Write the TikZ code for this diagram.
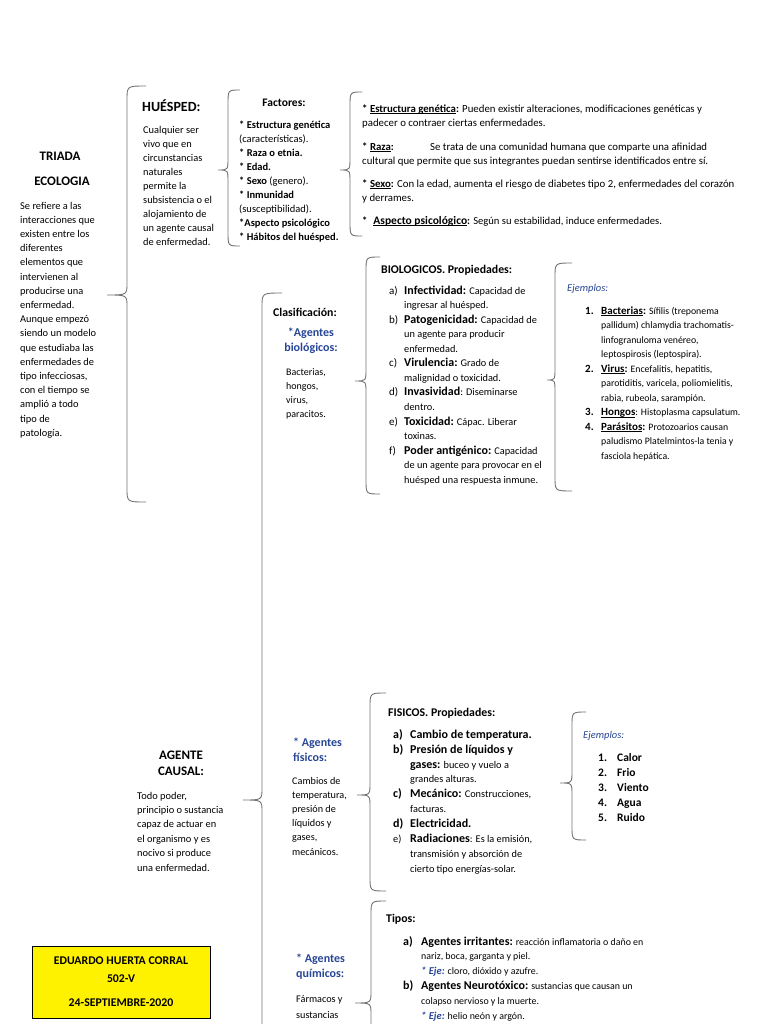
\documentclass[tikz,border=0pt]{standalone}
\usepackage{fontspec}
\setmainfont{Carlito}
\definecolor{dblue}{RGB}{40,70,150}
\definecolor{bgray}{RGB}{115,115,115}
\newcommand\fsz[2]{\fontsize{#1}{#2}\selectfont}
\newcommand\bt[1]{{\bfseries\fontsize{12}{14.5}\selectfont #1}}
\newcommand\lbl[2]{\makebox[#1][l]{#2}}
\newcommand\ul[1]{\setbox0\hbox{#1}\rlap{\rule[-1.6pt]{\wd0}{0.6pt}}\box0}
\newcommand\CurlyL[6]{%
  \draw[brc] (#6,#2) .. controls (#1,#2) .. (#1,#2+14) -- (#1,#3-12)
    .. controls (#1,#3) .. (#5,#3) .. controls (#1,#3) .. (#1,#3+12)
    -- (#1,#4-14) .. controls (#1,#4) .. (#6,#4);}
\begin{document}
\begin{tikzpicture}[x=1pt,y=-1pt,
  brc/.style={draw=bgray, line width=0.9pt},
  txt/.style={inner sep=0pt, anchor=north west, align=left},
  one/.style={inner sep=0pt, anchor=base west},
  head/.style={inner sep=0pt, anchor=base west, font=\bfseries\fsz{11.8}{14}},
  ttl/.style={inner sep=0pt, anchor=north, align=center, font=\bfseries\fsz{13}{16}},
  bluehead/.style={inner sep=0pt, align=left, text=dblue, font=\bfseries\fsz{12}{15}},
  ejem/.style={inner sep=0pt, anchor=base west, text=dblue, font=\itshape\fsz{10.5}{14}}]
\useasboundingbox (0,0) rectangle (768,1024);

% braces
\CurlyL{127}{86}{295}{502}{107}{146}
\CurlyL{228}{90}{170}{246}{218}{240}
\CurlyL{350}{92}{170}{236}{340}{362}
\CurlyL{366}{257}{381}{494}{355}{380}
\CurlyL{555}{263}{380}{491}{547}{572}
\CurlyL{262}{293}{800}{1070}{243}{282}
\CurlyL{370}{693}{795}{891}{357}{386}
\CurlyL{572}{712}{783}{840}{560}{586}
\CurlyL{371}{901}{1003}{1110}{355}{386}

% Triada
\node[ttl] (triada) at (60,149) {\strut TRIADA};
\node[ttl] (ecologia) at (62,174) {\strut ECOLOGIA};
\node[txt, font=\fsz{10.4}{14.2}] (triadatxt) at (20,199) {\strut Se refiere a las\\interacciones que\\existen entre los\\diferentes\\elementos que\\intervienen al\\producirse una\\enfermedad.\\Aunque empezó\\siendo un modelo\\que estudiaba las\\enfermedades de\\tipo infecciosas,\\con el tiempo se\\amplió a todo\\tipo de\\patología.};

% Huesped
\node[one, font=\bfseries\fsz{14}{16}] (huesped) at (142,112) {HUÉSPED:};
\node[txt, font=\fsz{10.4}{14}] (huespedtxt) at (143,123.2) {\strut Cualquier ser\\vivo que en\\circunstancias\\naturales\\permite la\\subsistencia o el\\alojamiento de\\un agente causal\\de enfermedad.};

% Factores
\node[inner sep=0pt, anchor=base, font=\bfseries\fsz{11.5}{14}] (factores) at (284,107) {Factores:};
\node[txt, font=\fsz{10.5}{14.1}] (factorestxt) at (239,118) {\strut\textbf{* Estructura genética}\\(características).\\\textbf{* Raza o etnia.}\\\textbf{* Edad.}\\\textbf{* Sexo} (genero).\\\textbf{* Inmunidad}\\(susceptibilidad).\\\textbf{*Aspecto psicológico}\\\textbf{* Hábitos del huésped.}};

% Factores details
\node[txt, font=\fsz{10.8}{14.5}] (det1) at (362,101.9) {\strut\textbf{* \ul{Estructura genética}:} Pueden existir alteraciones, modificaciones genéticas y\\padecer o contraer ciertas enfermedades.};
\node[txt, font=\fsz{10.8}{14.5}] (det2) at (362,139.9) {\strut\lbl{68pt}{\textbf{* \ul{Raza}:}}Se trata de una comunidad humana que comparte una afinidad\\cultural que permite que sus integrantes puedan sentirse identificados entre sí.};
\node[txt, font=\fsz{10.8}{14.5}] (det3) at (362,176.9) {\strut\textbf{* \ul{Sexo}:} Con la edad, aumenta el riesgo de diabetes tipo 2, enfermedades del corazón\\y derrames.};
\node[one, font=\fsz{10.6}{14.5}] (det4) at (362,224.5) {\textbf{*\hspace{6pt}{\fsz{11.5}{14.5}\ul{Aspecto psicológico}}:} Según su estabilidad, induce enfermedades.};

% Clasificacion / biologicos
\node[one, font=\bfseries\fsz{11.8}{14}] (clasif) at (273,316) {Clasificación:};
\node[bluehead, anchor=north, align=center] (agbio) at (311,326) {\strut *Agentes\\biológicos:};
\node[txt, font=\fsz{10}{14}] (biotxt) at (286,365.2) {\strut Bacterias,\\hongos,\\virus,\\paracitos.};

\node[head] (bioprop) at (381,273) {BIOLOGICOS. Propiedades:};
\node[txt, font=\fsz{10.3}{14.54}] (biolist) at (389,283.8) {\strut
\lbl{15pt}{\fsz{11}{14.54}a)}\bt{Infectividad:} Capacidad de\\
\lbl{15pt}{}ingresar al huésped.\\
\lbl{15pt}{\fsz{11}{14.54}b)}\bt{Patogenicidad:} Capacidad de\\
\lbl{15pt}{}un agente para producir\\
\lbl{15pt}{}enfermedad.\\
\lbl{15pt}{\fsz{11}{14.54}c)}\bt{Virulencia:} Grado de\\
\lbl{15pt}{}malignidad o toxicidad.\\
\lbl{15pt}{\fsz{11}{14.54}d)}\bt{Invasividad}: Diseminarse\\
\lbl{15pt}{}dentro.\\
\lbl{15pt}{\fsz{11}{14.54}e)}\bt{Toxicidad:} Cápac. Liberar\\
\lbl{15pt}{}toxinas.\\
\lbl{15pt}{\fsz{11}{14.54}f)}\bt{Poder antigénico:} Capacidad\\
\lbl{15pt}{}de un agente para provocar en el\\
\lbl{15pt}{}huésped una respuesta inmune.};

\node[ejem] (ejbio) at (567,291) {Ejemplos:};
\node[txt, font=\fsz{9.8}{14.5}] (ejbiolist) at (585,303.85) {\strut
\lbl{16pt}{\bfseries\fsz{11}{14.5}1.}{\bfseries\fsz{11}{14.5}\ul{Bacterias}:} Sífilis (treponema\\
\lbl{16pt}{}pallidum) chlamydia trachomatis-\\
\lbl{16pt}{}linfogranuloma venéreo,\\
\lbl{16pt}{}leptospirosis (leptospira).\\
\lbl{16pt}{\bfseries\fsz{11}{14.5}2.}{\bfseries\fsz{11}{14.5}\ul{Virus}:} Encefalitis, hepatitis,\\
\lbl{16pt}{}parotiditis, varicela, poliomielitis,\\
\lbl{16pt}{}rabia, rubeola, sarampión.\\
\lbl{16pt}{\bfseries\fsz{11}{14.5}3.}{\bfseries\fsz{11}{14.5}\ul{Hongos}}: Histoplasma capsulatum.\\
\lbl{16pt}{\bfseries\fsz{11}{14.5}4.}{\bfseries\fsz{11}{14.5}\ul{Parásitos}:} Protozoarios causan\\
\lbl{16pt}{}paludismo Platelmintos-la tenia y\\
\lbl{16pt}{}fasciola hepática.};

% Agente causal
\node[ttl] (agente) at (181,748.3) {\strut AGENTE\\CAUSAL:};
\node[txt, font=\fsz{10.4}{14.4}] (agentetxt) at (137,788.9) {\strut Todo poder,\\principio o sustancia\\capaz de actuar en\\el organismo y es\\nocivo si produce\\una enfermedad.};

% Fisicos
\node[bluehead, anchor=north west] (agfis) at (293,736) {\strut * Agentes\\físicos:};
\node[txt, font=\fsz{10.2}{14.2}] (fistxt) at (292,774) {\strut Cambios de\\temperatura,\\presión de\\líquidos y\\gases,\\mecánicos.};

\node[head] (fisprop) at (388,716) {FISICOS. Propiedades:};
\node[txt, font=\fsz{10.3}{14.9}] (fislist) at (393,727.6) {\strut
\lbl{17pt}{\bfseries\fsz{12}{14.9}a)}\bt{Cambio de temperatura.}\\
\lbl{17pt}{\bfseries\fsz{12}{14.9}b)}\bt{Presión de líquidos y}\\
\lbl{17pt}{}\bt{gases:} buceo y vuelo a\\
\lbl{17pt}{}grandes alturas.\\
\lbl{17pt}{\bfseries\fsz{12}{14.9}c)}\bt{Mecánico:} Construcciones,\\
\lbl{17pt}{}facturas.\\
\lbl{17pt}{\bfseries\fsz{12}{14.9}d)}\bt{Electricidad.}\\
\lbl{17pt}{e)}\bt{Radiaciones}: Es la emisión,\\
\lbl{17pt}{}transmisión y absorción de\\
\lbl{17pt}{}cierto tipo energías-solar.};

\node[ejem] (ejfis) at (583,738) {Ejemplos:};
\node[txt, font=\bfseries\fsz{11.5}{15}] (ejfislist) at (598,750.5) {\strut
\lbl{19pt}{1.}Calor\\\lbl{19pt}{2.}Frio\\\lbl{19pt}{3.}Viento\\\lbl{19pt}{4.}Agua\\\lbl{19pt}{5.}Ruido};

% Quimicos
\node[bluehead, anchor=north west] (agqui) at (296,952) {\strut * Agentes\\químicos:};
\node[txt, font=\fsz{10.2}{15.5}] (quitxt) at (296,991.8) {\strut Fármacos y\\sustancias};

\node[head] (tipos) at (386,922) {Tipos:};
\node[txt, font=\fsz{9.9}{14.8}] (tiposlist) at (403,934.6) {\strut
\lbl{18pt}{\bfseries\fsz{12}{14.8}a)}\bt{Agentes irritantes:} reacción inflamatoria o daño en\\
\lbl{18pt}{}nariz, boca, garganta y piel.\\
\lbl{18pt}{}{\color{dblue}\bfseries\itshape\fsz{10.5}{14.8}* Eje:} cloro, dióxido y azufre.\\
\lbl{18pt}{\bfseries\fsz{12}{14.8}b)}\bt{Agentes Neurotóxico:} sustancias que causan un\\
\lbl{18pt}{}colapso nervioso y la muerte.\\
\lbl{18pt}{}{\color{dblue}\bfseries\itshape\fsz{10.5}{14.8}* Eje:} helio neón y argón.};

% Name box
\node[draw=black, line width=1pt, fill=yellow, minimum width=178pt, minimum height=72pt, inner sep=0pt, align=center, font=\bfseries\fsz{11.8}{18}] (namebox) at (121,982) {EDUARDO HUERTA CORRAL\\502-V\\[6pt]24-SEPTIEMBRE-2020};
\end{tikzpicture}
\end{document}
